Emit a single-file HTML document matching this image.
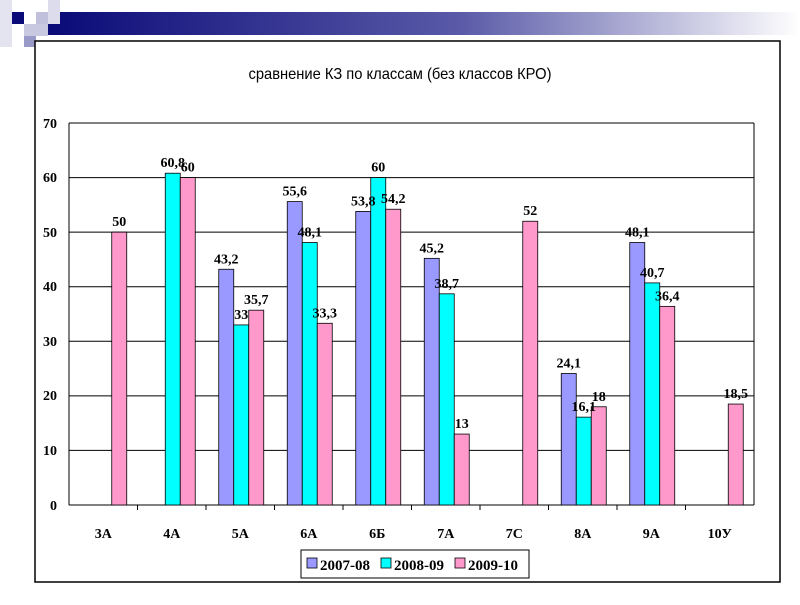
<!DOCTYPE html><html><head><meta charset="utf-8"><style>body{margin:0;width:800px;height:600px;background:#fff;overflow:hidden;font-family:"Liberation Serif",serif}</style></head><body>
<svg width="800" height="600" xmlns="http://www.w3.org/2000/svg" font-family="Liberation Serif, serif">
<defs><linearGradient id="g" x1="0" x2="1"><stop offset="0" stop-color="#0a0a78"/><stop offset="0.55" stop-color="#5a5aa8"/><stop offset="1" stop-color="#ffffff"/></linearGradient></defs>
<rect x="48" y="12" width="752" height="23" fill="url(#g)"/>
<rect x="0" y="0" width="12" height="47" fill="#e4e4f0"/>
<rect x="12" y="12" width="12" height="12" fill="#0a0a78"/>
<rect x="36" y="12" width="12" height="12" fill="#c0c0dc"/>
<rect x="48" y="0" width="12" height="24" fill="#dcdcec"/>
<rect x="24" y="24" width="24" height="12" fill="#c8c8e0"/>
<rect x="24" y="36" width="12" height="11" fill="#9a9ac8"/>
<rect x="35" y="41" width="745" height="541" fill="#fff" stroke="#000" stroke-width="1.5"/>
<text x="400" y="79" font-size="16" text-anchor="middle" font-family="Liberation Sans, sans-serif" transform="translate(400 0) scale(0.92 1) translate(-400 0)">сравнение КЗ по классам (без классов КРО)</text>
<g stroke="#000" stroke-width="1">
<line x1="69" y1="123" x2="754" y2="123"/><line x1="69" y1="177.6" x2="754" y2="177.6"/><line x1="69" y1="232.1" x2="754" y2="232.1"/><line x1="69" y1="286.7" x2="754" y2="286.7"/><line x1="69" y1="341.3" x2="754" y2="341.3"/><line x1="69" y1="395.9" x2="754" y2="395.9"/><line x1="69" y1="450.4" x2="754" y2="450.4"/>
<line x1="69" y1="123" x2="69" y2="505"/><line x1="69" y1="505" x2="754" y2="505"/><line x1="754" y1="123" x2="754" y2="505"/>
</g>
<g font-size="14" text-anchor="end" font-weight="bold">
<text x="57" y="128">70</text><text x="57" y="182">60</text><text x="57" y="237">50</text><text x="57" y="291">40</text><text x="57" y="346">30</text><text x="57" y="400">20</text><text x="57" y="455">10</text><text x="57" y="510">0</text></g>
<g id="bars" stroke="#000" stroke-width="0.8"></g>
<g id="lbl" font-size="14" font-weight="bold" text-anchor="middle"></g>
<g font-size="14" font-weight="bold" text-anchor="middle" id="cats"></g>
<rect x="301" y="550" width="228" height="28" fill="#fff" stroke="#000"/>
<g stroke="#000" stroke-width="0.8">
<rect x="307" y="558" width="10" height="10" fill="#9999ff"/><rect x="381" y="558" width="10" height="10" fill="#00ffff"/><rect x="455" y="558" width="10" height="10" fill="#ff99cc"/></g>
<g font-size="15" font-weight="bold"><text x="320" y="570">2007-08</text><text x="394" y="570">2008-09</text><text x="468" y="570">2009-10</text></g>
<script>
var d=[["3А",null,null,50],["4А",null,60.8,60],["5А",43.2,33,35.7],["6А",55.6,48.1,33.3],["6Б",53.8,60,54.2],["7А",45.2,38.7,13],["7С",null,null,52],["8А",24.1,16.1,18],["9А",48.1,40.7,36.4],["10У",null,null,18.5]];
var c=["#9999ff","#00ffff","#ff99cc"],ns="http://www.w3.org/2000/svg",w=68.5,s=5.457;
function el(p,t,a,tx){var e=document.createElementNS(ns,t);for(var k in a)e.setAttribute(k,a[k]);if(tx!=null)e.textContent=tx;document.getElementById(p).appendChild(e);}
d.forEach(function(r,i){var cx=69+w*i+w/2;el("cats","text",{x:cx,y:538},r[0]);
if(i>0)el("cats","line",{x1:69+w*i,y1:505,x2:69+w*i,y2:510,stroke:"#000"});
for(var j=0;j<3;j++){var v=r[j+1];if(v==null)continue;var x=cx-21.5+15*j,h=v*s;
el("bars","rect",{x:x,y:505-h,width:15,height:h,fill:c[j]});
el("lbl","text",{x:x+7.5,y:505-h-6},String(v).replace(".",","));}});
</script>
</svg></body></html>
